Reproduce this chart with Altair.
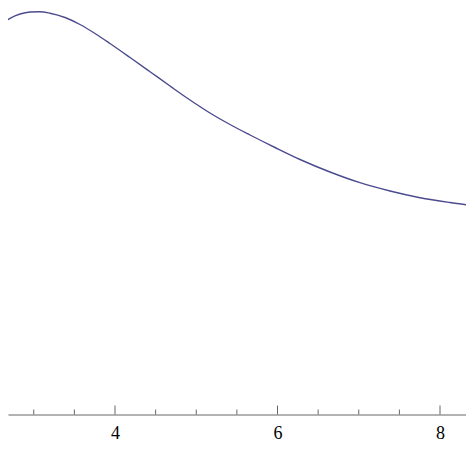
import altair as alt
import pandas as pd

xs = [2.585, 2.708, 2.831, 2.954, 3.077, 3.2, 3.385, 3.569, 3.754, 3.938, 4.185, 4.431, 4.677, 4.923,
      5.169, 5.415, 5.662, 5.969, 6.277, 6.646, 7.015, 7.385, 7.754, 8.123, 8.418]
ys = [3.895, 3.962, 4.005, 4.025, 4.028, 4.013, 3.97, 3.9, 3.81, 3.71, 3.57, 3.428, 3.285, 3.145,
      3.015, 2.9, 2.795, 2.67, 2.55, 2.425, 2.318, 2.235, 2.168, 2.12, 2.088]
major_ticks = [4, 6, 8]
minor_ticks = [3, 3.5, 4.5, 5, 5.5, 6.5, 7, 7.5]

W, H = 458, 406.5
xdom = [2.683, 8.32]
ydom = [0, 4.065]

df = pd.DataFrame({"x": xs, "y": ys})
xscale = alt.Scale(domain=xdom, nice=False, zero=False)
yscale = alt.Scale(domain=ydom, nice=False, zero=False)

line = alt.Chart(df).mark_line(color="#4b4b8f", strokeWidth=1.4, interpolate="monotone", clip=True).encode(
    x=alt.X("x:Q", scale=xscale, axis=alt.Axis(values=major_ticks, title=None, grid=False, ticks=False,
                                               domainColor="#666666", domainWidth=1, labelFont="Liberation Serif",
                                               labelFontSize=18, labelColor="#000000", labelPadding=10,
                                               format="d")),
    y=alt.Y("y:Q", scale=yscale, axis=None),
)

maj = alt.Chart(pd.DataFrame({"t": major_ticks})).mark_rule(color="#666666", strokeWidth=1).encode(
    x=alt.X("t:Q", scale=xscale), y=alt.value(H), y2=alt.value(H - 9))
mnr = alt.Chart(pd.DataFrame({"t": minor_ticks})).mark_rule(color="#666666", strokeWidth=1).encode(
    x=alt.X("t:Q", scale=xscale), y=alt.value(H), y2=alt.value(H - 5))

chart = alt.layer(line, maj, mnr).properties(
    width=W, height=H, padding={"left": 0, "top": 0, "right": 0, "bottom": 45},
    autosize=alt.AutoSizeParams(type="none"),
    view=alt.ViewBackground(stroke="transparent", strokeWidth=0),
).configure_view(strokeWidth=0, stroke="transparent").configure(background="white")

chart.save("out.html", embed_options={"renderer": "svg", "actions": False})
